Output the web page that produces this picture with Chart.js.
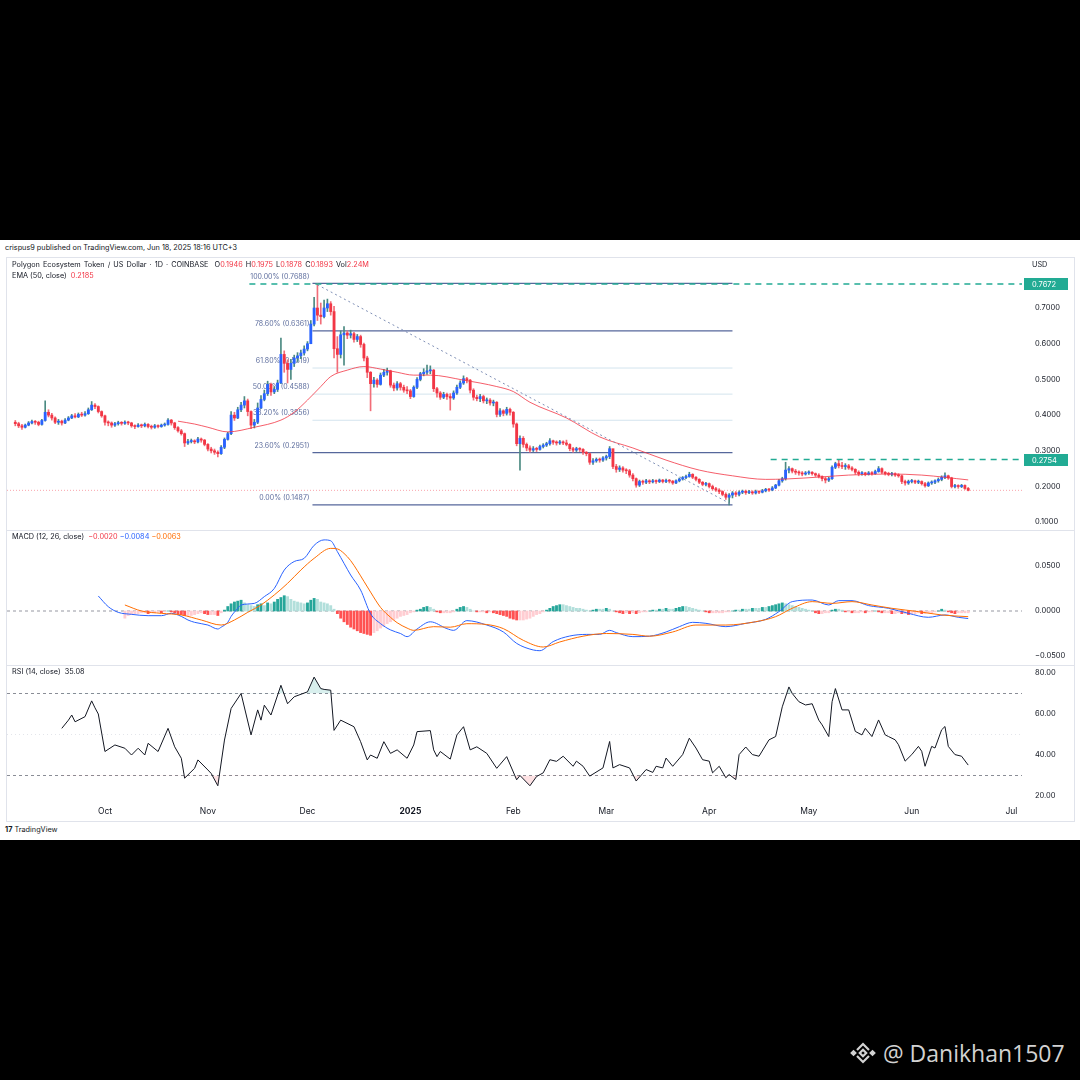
<!DOCTYPE html>
<html>
<head>
<meta charset="utf-8">
<title>POL / USD · 1D · COINBASE</title>
<script src="https://cdn.jsdelivr.net/npm/chart.js@4.4.1/dist/chart.umd.min.js"></script>
<style>
  html, body { margin: 0; padding: 0; background: #000; }
  body { position: relative; width: 1080px; height: 1080px; overflow: hidden; font-family: Inter, "Noto Sans", sans-serif; color: #131722; }
  .sheet { position: absolute; left: 0; top: 240px; width: 1080px; height: 600px; background: #fff; }
  .frame { position: absolute; left: 6px; top: 257px; width: 1069px; height: 565px; border: 1px solid #e0e3eb; box-sizing: border-box; }
  .sep { position: absolute; left: 6px; width: 1069px; height: 1px; background: #e0e3eb; }
  canvas { position: absolute; left: 0; }
  .t { position: absolute; font-size: 7.3px; line-height: 7px; white-space: nowrap; }
  .red { color: #f23645; }
  .blue { color: #2962ff; }
  .orange { color: #ff6d00; }
  .wm { position: absolute; left: 850px; top: 1037px; display: flex; align-items: center; gap: 7px; color: #d2d2d2; font-family: "Open Sans", sans-serif; font-size: 23px; }
</style>
</head>
<body>
<div class="sheet"></div>
<div class="frame"></div>
<canvas id="price" width="1080" height="272" style="top:258px"></canvas>
<canvas id="macd" width="1080" height="135" style="top:530px"></canvas>
<canvas id="rsi" width="1080" height="157" style="top:665px"></canvas>
<div class="sep" style="top:530px"></div>
<div class="sep" style="top:665px"></div>

<div class="t" style="left:5px;top:244px">crispus9 published on TradingView.com, Jun 18, 2025 18:16 UTC+3</div>
<div class="t" id="ohlc" style="left:12px;top:261px;word-spacing:1px"></div>
<div class="t" id="emaLegend" style="left:12px;top:272px"></div>
<div class="t" style="left:1032px;top:261px">USD</div>
<div class="t" style="left:12px;top:533px">MACD (12, 26, close)&nbsp; <span class="red">−0.0020</span> <span class="blue">−0.0084</span> <span class="orange">−0.0063</span></div>
<div class="t" id="rsiLegend" style="left:12px;top:668px"></div>
<div class="t" style="left:5px;top:826px"><b>17</b> TradingView</div>

<div class="wm">
  <svg width="26" height="26" viewBox="-13 -13 26 26" fill="none" stroke="#d2d2d2" stroke-width="2.2">
    <path d="M-6 -3 L0 -9 L6 -3"/>
    <path d="M-6 3 L0 9 L6 3"/>
    <path d="M0 -3.2 L3.2 0 L0 3.2 L-3.2 0 Z"/>
    <path d="M-9.5 -1.8 L-7.7 0 L-9.5 1.8 L-11.3 0 Z" fill="#d2d2d2"/>
    <path d="M9.5 -1.8 L11.3 0 L9.5 1.8 L7.7 0 Z" fill="#d2d2d2"/>
  </svg>
  <span>@ Danikhan1507</span>
</div>

<script>
// bar index 0 = 2024-09-04, one candle per day up to 2025-06-18 (index 287)
const closes = [
  // Sep
  0.376, 0.370, 0.366, 0.372, 0.378, 0.382, 0.380, 0.374, 0.385, 0.408,
  0.400, 0.392, 0.380, 0.383, 0.378, 0.386, 0.392, 0.398, 0.395, 0.402,
  0.400, 0.404, 0.415, 0.428, 0.424, 0.410, 0.398,
  // Oct
  0.380, 0.378, 0.372, 0.376, 0.379, 0.377, 0.380, 0.378, 0.370, 0.368,
  0.372, 0.370, 0.374, 0.368, 0.366, 0.370, 0.368, 0.372, 0.374, 0.386,
  0.378, 0.365, 0.356, 0.348, 0.322, 0.326, 0.328, 0.325, 0.333, 0.330,
  0.318,
  // Nov
  0.305, 0.300, 0.296, 0.292, 0.310, 0.332, 0.348, 0.400, 0.392, 0.415,
  0.428, 0.440, 0.410, 0.372, 0.380, 0.420, 0.444, 0.460, 0.486, 0.465,
  0.472, 0.490, 0.570, 0.545, 0.528, 0.545, 0.560, 0.566, 0.574, 0.585,
  // Dec
  0.600, 0.655, 0.700, 0.680, 0.676, 0.700, 0.712, 0.690, 0.586, 0.570,
  0.625, 0.630, 0.624, 0.628, 0.612, 0.620, 0.598, 0.560, 0.520, 0.488,
  0.498, 0.486, 0.512, 0.520, 0.524, 0.484, 0.476, 0.488, 0.478, 0.470,
  0.468,
  // Jan
  0.452, 0.478, 0.500, 0.516, 0.520, 0.524, 0.526, 0.474, 0.462, 0.450,
  0.458, 0.452, 0.448, 0.462, 0.478, 0.490, 0.502, 0.498, 0.470, 0.450,
  0.446, 0.452, 0.440, 0.442, 0.434, 0.436, 0.402, 0.412, 0.405, 0.416,
  0.408,
  // Feb
  0.375, 0.320, 0.335, 0.318, 0.308, 0.302, 0.306, 0.304, 0.312, 0.316,
  0.320, 0.328, 0.324, 0.322, 0.325, 0.322, 0.318, 0.306, 0.302, 0.306,
  0.304, 0.296, 0.292, 0.268, 0.272, 0.276, 0.274, 0.280,
  // Mar
  0.284, 0.306, 0.256, 0.248, 0.252, 0.246, 0.244, 0.232, 0.222, 0.204,
  0.214, 0.212, 0.216, 0.213, 0.216, 0.214, 0.218, 0.214, 0.217, 0.215,
  0.210, 0.216, 0.221, 0.225, 0.228, 0.234, 0.226, 0.220, 0.212, 0.206,
  0.208,
  // Apr
  0.200, 0.194, 0.190, 0.186, 0.178, 0.170, 0.176, 0.182, 0.178, 0.184,
  0.187, 0.183, 0.185, 0.182, 0.186, 0.184, 0.188, 0.192, 0.190, 0.196,
  0.204, 0.216, 0.222, 0.246, 0.250, 0.243, 0.240, 0.238, 0.235, 0.238,
  // May
  0.240, 0.236, 0.232, 0.228, 0.222, 0.218, 0.222, 0.254, 0.264, 0.258,
  0.256, 0.258, 0.252, 0.248, 0.240, 0.236, 0.238, 0.234, 0.238, 0.236,
  0.242, 0.250, 0.240, 0.236, 0.234, 0.236, 0.232, 0.230, 0.214, 0.210,
  0.214,
  // Jun
  0.216, 0.212, 0.214, 0.208, 0.202, 0.210, 0.212, 0.216, 0.220, 0.226,
  0.230, 0.224, 0.200, 0.202, 0.200, 0.203, 0.1946, 0.1893
];

const highs = [
  0.385, 0.380, 0.374, 0.375, 0.382, 0.386, 0.385, 0.383, 0.388, 0.440,
  0.415, 0.405, 0.395, 0.388, 0.386, 0.390, 0.396, 0.402, 0.404, 0.406,
  0.408, 0.410, 0.420, 0.438, 0.432, 0.426, 0.412,
  0.400, 0.384, 0.381, 0.380, 0.383, 0.382, 0.384, 0.383, 0.380, 0.373,
  0.376, 0.375, 0.378, 0.376, 0.372, 0.374, 0.373, 0.375, 0.378, 0.390,
  0.388, 0.380, 0.368, 0.360, 0.350, 0.332, 0.333, 0.331, 0.338, 0.336,
  0.332,
  0.320, 0.310, 0.305, 0.300, 0.315, 0.336, 0.352, 0.410, 0.408, 0.422,
  0.436, 0.452, 0.445, 0.412, 0.388, 0.434, 0.455, 0.470, 0.495, 0.490,
  0.480, 0.498, 0.616, 0.580, 0.555, 0.556, 0.568, 0.575, 0.582, 0.594,
  0.606, 0.665, 0.730, 0.769, 0.714, 0.722, 0.725, 0.718, 0.705, 0.620,
  0.636, 0.648, 0.636, 0.638, 0.632, 0.626, 0.624, 0.602, 0.565, 0.522,
  0.506, 0.502, 0.518, 0.528, 0.532, 0.526, 0.490, 0.494, 0.492, 0.484,
  0.480,
  0.472, 0.482, 0.505, 0.520, 0.530, 0.540, 0.538, 0.528, 0.478, 0.466,
  0.464, 0.462, 0.460, 0.468, 0.484, 0.496, 0.510, 0.506, 0.500, 0.474,
  0.456, 0.458, 0.456, 0.448, 0.446, 0.442, 0.438, 0.418, 0.415, 0.422,
  0.420,
  0.410, 0.378, 0.342, 0.340, 0.322, 0.314, 0.312, 0.310, 0.316, 0.320,
  0.324, 0.334, 0.330, 0.328, 0.329, 0.328, 0.330, 0.320, 0.310, 0.310,
  0.309, 0.306, 0.298, 0.294, 0.278, 0.280, 0.280, 0.284,
  0.288, 0.312, 0.304, 0.262, 0.258, 0.256, 0.250, 0.248, 0.236, 0.224,
  0.218, 0.218, 0.220, 0.219, 0.220, 0.219, 0.221, 0.220, 0.221, 0.220,
  0.217, 0.219, 0.224, 0.228, 0.232, 0.240, 0.236, 0.228, 0.222, 0.214,
  0.212,
  0.210, 0.204, 0.198, 0.194, 0.188, 0.182, 0.180, 0.186, 0.186, 0.188,
  0.190, 0.190, 0.189, 0.188, 0.190, 0.188, 0.192, 0.195, 0.195, 0.200,
  0.206, 0.220, 0.226, 0.268, 0.256, 0.252, 0.248, 0.244, 0.242, 0.242,
  0.244, 0.242, 0.238, 0.236, 0.230, 0.226, 0.226, 0.258, 0.268, 0.2754,
  0.268, 0.264, 0.262, 0.256, 0.250, 0.244, 0.242, 0.240, 0.242, 0.242,
  0.246, 0.256, 0.252, 0.242, 0.240, 0.240, 0.238, 0.236, 0.232, 0.218,
  0.218,
  0.220, 0.218, 0.218, 0.216, 0.212, 0.213, 0.216, 0.219, 0.224, 0.230,
  0.238, 0.232, 0.226, 0.206, 0.205, 0.206, 0.205, 0.1975
];

const lows = [
  0.370, 0.365, 0.360, 0.364, 0.370, 0.375, 0.374, 0.370, 0.372, 0.383,
  0.395, 0.386, 0.376, 0.374, 0.372, 0.376, 0.384, 0.390, 0.392, 0.393,
  0.396, 0.397, 0.402, 0.413, 0.418, 0.406, 0.394,
  0.372, 0.370, 0.366, 0.368, 0.372, 0.372, 0.374, 0.373, 0.366, 0.362,
  0.366, 0.365, 0.367, 0.364, 0.361, 0.363, 0.364, 0.366, 0.369, 0.372,
  0.372, 0.360, 0.352, 0.344, 0.312, 0.318, 0.322, 0.320, 0.322, 0.324,
  0.314,
  0.300, 0.294, 0.290, 0.283, 0.290, 0.306, 0.330, 0.345, 0.385, 0.390,
  0.410, 0.420, 0.398, 0.362, 0.364, 0.376, 0.418, 0.440, 0.455, 0.455,
  0.460, 0.466, 0.488, 0.520, 0.490, 0.500, 0.536, 0.550, 0.558, 0.568,
  0.580, 0.600, 0.650, 0.665, 0.655, 0.672, 0.690, 0.680, 0.560, 0.520,
  0.560, 0.540, 0.614, 0.616, 0.604, 0.606, 0.590, 0.552, 0.505, 0.412,
  0.478, 0.478, 0.484, 0.508, 0.512, 0.478, 0.468, 0.470, 0.470, 0.464,
  0.460,
  0.446, 0.450, 0.474, 0.496, 0.510, 0.514, 0.516, 0.466, 0.450, 0.444,
  0.446, 0.444, 0.414, 0.444, 0.458, 0.474, 0.486, 0.490, 0.462, 0.442,
  0.440, 0.438, 0.434, 0.432, 0.428, 0.426, 0.395, 0.396, 0.398, 0.400,
  0.400,
  0.366, 0.314, 0.246, 0.310, 0.300, 0.296, 0.298, 0.298, 0.302, 0.308,
  0.312, 0.316, 0.318, 0.316, 0.318, 0.317, 0.314, 0.300, 0.296, 0.298,
  0.298, 0.290, 0.286, 0.262, 0.262, 0.268, 0.268, 0.270,
  0.274, 0.278, 0.250, 0.240, 0.242, 0.240, 0.236, 0.226, 0.216, 0.198,
  0.200, 0.206, 0.208, 0.208, 0.210, 0.209, 0.211, 0.210, 0.211, 0.210,
  0.206, 0.208, 0.213, 0.218, 0.222, 0.226, 0.222, 0.216, 0.208, 0.202,
  0.202,
  0.196, 0.190, 0.186, 0.180, 0.174, 0.164, 0.1487, 0.168, 0.172, 0.174,
  0.180, 0.178, 0.180, 0.178, 0.179, 0.180, 0.182, 0.185, 0.186, 0.188,
  0.194, 0.202, 0.212, 0.218, 0.238, 0.238, 0.234, 0.232, 0.230, 0.232,
  0.234, 0.232, 0.228, 0.224, 0.216, 0.210, 0.214, 0.220, 0.250, 0.252,
  0.250, 0.248, 0.248, 0.244, 0.234, 0.230, 0.232, 0.230, 0.232, 0.232,
  0.234, 0.240, 0.236, 0.232, 0.230, 0.230, 0.228, 0.226, 0.208, 0.204,
  0.206,
  0.210, 0.208, 0.208, 0.204, 0.198, 0.200, 0.206, 0.208, 0.212, 0.216,
  0.222, 0.220, 0.196, 0.196, 0.195, 0.197, 0.192, 0.1878
];

// a 24h market: every daily candle opens at the previous close
const opens = [0.380].concat(closes.slice(0, -1));

// EMA(50)
const emaIdx  = [49, 54, 58, 64, 72, 80, 84, 88, 92, 95, 100, 105, 110, 115, 120, 125, 135, 145, 150, 155, 166, 176, 186, 196, 206, 216, 226, 232, 243, 251, 263, 273, 287];
const emaVals = [0.383, 0.375, 0.366, 0.353, 0.366, 0.386, 0.408, 0.442, 0.480, 0.508, 0.526, 0.536, 0.529, 0.520, 0.512, 0.512, 0.498, 0.480, 0.466, 0.436, 0.392, 0.339, 0.308, 0.274, 0.246, 0.230, 0.220, 0.221, 0.227, 0.232, 0.235, 0.232, 0.2185];

// Fibonacci retracement drawn from the Dec high to the Apr low
const fibPercents = ['100.00%', '78.60%', '61.80%', '50.00%', '38.20%', '23.60%', '0.00%'];
const fibLevels   = [0.7688, 0.6361, 0.5319, 0.4588, 0.3856, 0.2951, 0.1487];
const fibFrom = 89.5, fibTo = 216;

// dotted trend line (high -> low) and the two dashed horizontal levels
const trendIdx  = [91, 216];
const trendVals = [0.765, 0.1487];
const tagLevels = [0.7672, 0.2754];
const tagFrom   = [70.5, 227.5];

// MACD (12, 26, close)
const macdIdx  = [25, 28, 31, 35, 40, 44, 47, 50, 52, 54, 58, 61, 62, 64, 65, 67, 68, 72, 75, 78, 81, 84, 87, 90, 93, 95, 97, 99, 101, 104, 107, 110, 113, 116, 118, 121, 125, 130, 132, 136, 142, 147, 151, 156, 158, 162, 167, 172, 176, 179, 181, 186, 191, 196, 200, 204, 208, 214, 220, 226, 230, 234, 240, 245, 248, 252, 257, 263, 269, 275, 280, 284, 287];
const macdVals = [0.0167, 0.0048, -0.0015, -0.0037, -0.0052, -0.0052, -0.0026, -0.006, -0.010, -0.0126, -0.0156, -0.020, -0.018, -0.0125, -0.006, 0.003, 0.0067, 0.0085, 0.016, 0.025, 0.0455, 0.055, 0.0585, 0.073, 0.079, 0.078, 0.066, 0.053, 0.040, 0.0233, -0.003, -0.014, -0.021, -0.025, -0.0285, -0.020, -0.012, -0.0196, -0.0215, -0.0107, -0.0156, -0.0233, -0.036, -0.0433, -0.0441, -0.034, -0.0278, -0.026, -0.026, -0.0215, -0.024, -0.0285, -0.028, -0.0233, -0.0174, -0.0126, -0.0137, -0.0174, -0.0137, -0.0093, -0.0007, 0.0104, 0.0122, 0.0067, 0.0115, 0.0115, 0.006, 0.003, -0.0026, -0.007, -0.0044, -0.007, -0.0084];
const sigIdx  = [33, 38, 44, 50, 56, 62, 66, 70, 74, 78, 82, 86, 90, 95, 97, 99, 101, 103, 105, 107, 110, 113, 115, 118, 120, 126, 131, 136, 142, 147, 153, 159, 164, 171, 178, 186, 191, 198, 205, 214, 223, 229, 234, 240, 246, 252, 258, 264, 272, 279, 287];
const sigVals = [0.0067, 0.0, -0.0026, -0.0044, -0.010, -0.0156, -0.010, -0.0015, 0.0067, 0.0178, 0.0307, 0.0455, 0.0585, 0.0696, 0.069, 0.064, 0.056, 0.045, 0.033, 0.021, 0.004, -0.007, -0.013, -0.019, -0.0215, -0.0174, -0.0180, -0.0141, -0.0150, -0.0196, -0.0326, -0.040, -0.0344, -0.028, -0.025, -0.026, -0.028, -0.0233, -0.0156, -0.0156, -0.0119, -0.0063, 0.003, 0.0104, 0.0085, 0.0104, 0.0067, 0.003, -0.0007, -0.0044, -0.0063];
const histStart = 33;
const histVals = [
  -0.008, -0.005, -0.004, -0.003, -0.003, -0.002, -0.002, -0.003, -0.002, -0.002,
  -0.001, -0.002, -0.001, 0.000, -0.001, -0.002, -0.003, -0.004, -0.005, -0.005,
  -0.005, -0.004, -0.003, -0.002, -0.003, -0.004, -0.004, -0.004, -0.005, -0.002,
  0.001, 0.005, 0.008, 0.010, 0.011, 0.012, 0.009, 0.007, 0.006, 0.005,
  0.007, 0.008, 0.006, 0.009, 0.008, 0.010, 0.013, 0.015, 0.017, 0.016,
  0.013, 0.011, 0.010, 0.009, 0.008, 0.009, 0.012, 0.014, 0.013, 0.010,
  0.009, 0.008, 0.006, 0.002, -0.003, -0.008, -0.012, -0.015, -0.018, -0.020,
  -0.022, -0.024, -0.025, -0.026, -0.027, -0.024, -0.022, -0.019, -0.017, -0.014,
  -0.012, -0.010, -0.008, -0.006, -0.005, -0.004, -0.002, -0.001, 0.001, 0.002,
  0.004, 0.005, 0.004, 0.002, -0.001, -0.002, -0.002, -0.002, -0.002, -0.001,
  0.002, 0.004, 0.005, 0.004, 0.002, 0.000, -0.001, -0.001, -0.001, -0.002,
  -0.001, -0.002, -0.003, -0.004, -0.005, -0.006, -0.008, -0.009, -0.010, -0.010,
  -0.010, -0.009, -0.008, -0.006, -0.004, -0.003, -0.001, 0.001, 0.003, 0.005,
  0.006, 0.007, 0.007, 0.006, 0.005, 0.004, 0.003, 0.003, 0.002, 0.001,
  0.000, 0.001, 0.002, 0.002, 0.002, 0.003, 0.002, 0.000, -0.001, -0.002,
  -0.003, -0.002, -0.003, -0.002, -0.003, -0.002, -0.001, -0.001, 0.000, 0.001,
  0.001, 0.002, 0.002, 0.003, 0.002, 0.002, 0.003, 0.004, 0.005, 0.005,
  0.004, 0.003, 0.002, 0.001, 0.000, -0.001, -0.002, -0.002, -0.002, -0.002,
  -0.002, -0.001, -0.001, 0.000, 0.001, 0.001, 0.002, 0.002, 0.002, 0.003,
  0.003, 0.003, 0.004, 0.004, 0.005, 0.006, 0.007, 0.008, 0.009, 0.008,
  0.007, 0.006, 0.005, 0.004, 0.003, 0.002, 0.001, 0.000, -0.002, -0.003,
  -0.003, -0.002, -0.002, 0.001, 0.002, 0.002, 0.001, -0.001, -0.001, -0.002,
  -0.002, -0.002, -0.001, -0.002, -0.001, -0.001, 0.000, -0.001, -0.002, -0.002,
  -0.002, -0.003, -0.003, -0.002, -0.003, -0.003, -0.004, -0.003, -0.003, -0.002,
  -0.003, -0.003, -0.002, -0.002, -0.001, 0.000, 0.002, 0.001, -0.001, -0.002,
  -0.003, -0.002, -0.002, -0.002, -0.002
];

// RSI (14, close)
const rsiIdx  = [14, 16, 17, 18, 21, 23, 24, 25, 27, 30, 33, 35, 37, 39, 40, 43, 46, 48, 50, 51, 54, 55, 58, 59, 61, 63, 65, 68, 71, 73, 74, 75, 77, 80, 82, 84, 88, 90, 92, 93, 95, 96, 98, 102, 104, 106, 107, 109, 111, 113, 115, 118, 120, 121, 125, 126, 127, 128, 131, 133, 135, 137, 139, 142, 145, 148, 151, 152, 155, 157, 159, 161, 163, 165, 168, 169, 171, 173, 177, 179, 180, 182, 185, 187, 190, 192, 193, 195, 196, 198, 201, 203, 205, 207, 209, 210, 212, 214, 215, 217, 218, 220, 222, 224, 227, 229, 231, 233, 234, 236, 238, 240, 242, 243, 245, 246, 247, 249, 251, 253, 255, 256, 258, 260, 262, 263, 265, 266, 268, 270, 272, 273, 274, 276, 277, 279, 280, 281, 283, 285, 287];
const rsiVals = [53, 57, 59.5, 56.2, 58.7, 66.4, 63, 60, 41.7, 44.9, 43.3, 40, 43.3, 40, 45.7, 41.7, 53, 44, 38.4, 28.7, 33.5, 37.6, 32.7, 31, 25, 47.3, 62.7, 70, 49.8, 62, 57, 64.3, 59.5, 74, 65, 68.4, 70.8, 78, 72.4, 72, 71.6, 52, 57, 53.8, 46.5, 37.6, 40, 38.4, 46.5, 40.8, 42.5, 38.4, 44.9, 51.4, 51.9, 42.5, 39.2, 41.7, 38, 49.8, 53.8, 42.5, 44, 40.8, 33.5, 39.2, 27.9, 30, 25, 29.5, 31.3, 37.7, 36.9, 39.4, 34.5, 37, 34.5, 29.7, 33.7, 46.6, 33.7, 35.3, 33.7, 27.3, 32.9, 31.5, 34.5, 33.7, 38.5, 34.5, 40.2, 48.2, 43.4, 37.7, 37, 31.3, 34.5, 28.9, 30.5, 28, 40.2, 43.9, 40.2, 39.4, 47.4, 49, 63.5, 73.2, 70, 66, 64.4, 65, 57, 54.7, 49, 66, 72.4, 62, 62, 51.5, 49.8, 53, 49, 57.1, 49.8, 49, 47.4, 45, 37, 40.2, 44.2, 41.8, 34.5, 44.2, 43.4, 52.3, 53.9, 44.2, 40.2, 39.4, 35.08];

// time axis
const monthIdx    = [27, 58, 88, 119, 150, 178, 209, 239, 270, 300];
const monthLabels = ['Oct', 'Nov', 'Dec', '2025', 'Feb', 'Mar', 'Apr', 'May', 'Jun', 'Jul'];

const priceTicks = [0.1, 0.2, 0.3, 0.4, 0.5, 0.6, 0.7];
const macdTicks  = [-0.05, 0, 0.05];
const rsiTicks   = [20, 40, 60, 80];

// ---------- styling ----------
const FONT = 'Inter, "Noto Sans", sans-serif';
const X_MIN = -2.5, X_MAX = 303.2;
const UP = '#2962ff', DOWN = '#f23645';
const UP_WICK = '#4b8a82', DOWN_WICK = '#f26d78';
const TEAL = '#22ab94';
const FIB_DARK = '#56679b', FIB_FAINT = '#d3e4ee';
const faintFib = ['61.80%', '50.00%', '38.20%'];

Chart.defaults.font.family = FONT;
Chart.defaults.animation = false;

const pts = (xs, ys) => xs.map((x, k) => ({ x, y: ys[k] }));
const span = (y, from = X_MIN, to = X_MAX) => [{ x: from, y }, { x: to, y }];
const lastBar = closes.length - 1;

// legends above the panes
const f4 = v => v.toFixed(4);
document.getElementById('ohlc').innerHTML =
  'Polygon Ecosystem Token / US Dollar · 1D · COINBASE&nbsp; ' +
  `O<span class="red">${f4(opens[lastBar])}</span> H<span class="red">${f4(highs[lastBar])}</span> ` +
  `L<span class="red">${f4(lows[lastBar])}</span> C<span class="red">${f4(closes[lastBar])}</span> Vol<span class="red">2.24M</span>`;
document.getElementById('emaLegend').innerHTML = `EMA (50, close)&nbsp; <span class="red">${f4(emaVals[emaVals.length - 1])}</span>`;
document.getElementById('rsiLegend').innerHTML = `RSI (14, close)&nbsp; ${rsiVals[rsiVals.length - 1].toFixed(2)}`;

function xAxis(show) {
  return {
    type: 'linear', min: X_MIN, max: X_MAX, offset: false, display: show,
    grid: { display: false, drawTicks: false }, border: { display: false },
    afterBuildTicks: s => { s.ticks = monthIdx.map(v => ({ value: v })); },
    ticks: {
      autoSkip: false, maxRotation: 0, padding: 6, color: '#131722',
      font: c => ({ family: FONT, size: 8.5, weight: c.tick && c.tick.value === 119 ? 'bold' : 'normal' }),
      callback: v => monthLabels[monthIdx.indexOf(v)] ?? ''
    },
    afterFit: s => {
      s.height = show ? 22 : 0;
      s.paddingLeft = 0; s.paddingRight = 0;
    }
  };
}

function yAxis(min, max, ticks, fmt) {
  return {
    position: 'right', min, max,
    grid: { display: false, drawTicks: false }, border: { display: false },
    afterBuildTicks: s => { s.ticks = ticks.map(v => ({ value: v })); },
    ticks: { padding: 13, color: '#131722', font: { family: FONT, size: 7.5 }, callback: fmt },
    afterFit: s => { s.width = 58; s.paddingTop = 0; s.paddingBottom = 0; }
  };
}

const baseOptions = (scales) => ({
  responsive: false,
  events: [],
  layout: { padding: { left: 7, right: 0, top: 0, bottom: 0 } },
  plugins: { legend: { display: false }, tooltip: { enabled: false } },
  scales
});

const line = (data, extra) => Object.assign({
  type: 'line', data, pointRadius: 0, borderWidth: 1, fill: false, tension: 0
}, extra);

// fib labels under the candles, price tags on the axis
const fibPlugin = {
  id: 'fibLabels',
  beforeDatasetsDraw(chart) {
    const { ctx, scales: { x, y } } = chart;
    ctx.save();
    ctx.font = `7px ${FONT}`;
    ctx.textAlign = 'right';
    ctx.textBaseline = 'middle';
    ctx.fillStyle = '#5d6d9d';
    fibLevels.forEach((lv, k) => {
      ctx.fillText(`${fibPercents[k]} (${f4(lv)})`, x.getPixelForValue(fibFrom) - 3, y.getPixelForValue(lv) - 7);
    });
    ctx.restore();
  },
  afterDraw(chart) {
    const { ctx, chartArea, scales: { y } } = chart;
    ctx.save();
    ctx.font = `7.5px ${FONT}`;
    ctx.textAlign = 'left';
    ctx.textBaseline = 'middle';
    tagLevels.forEach(lv => {
      const py = Math.round(y.getPixelForValue(lv));
      ctx.fillStyle = TEAL;
      ctx.fillRect(chartArea.right + 2, py - 6, 44, 12);
      ctx.fillStyle = '#fff';
      ctx.fillText(f4(lv), chartArea.right + 10, py + 0.5);
    });
    ctx.restore();
  }
};

// ---------- price pane ----------
const upDown = (a, b) => closes.map((c, i) => (c >= opens[i] ? a : b));

const priceSets = [
  {
    type: 'bar', order: 8, grouped: false, barThickness: 1,
    data: closes.map((c, i) => ({ x: i, y: [lows[i], highs[i]] })),
    backgroundColor: upDown(UP_WICK, DOWN_WICK)
  },
  {
    type: 'bar', order: 7, grouped: false, barThickness: 2.2, minBarLength: 1,
    data: closes.map((c, i) => ({ x: i, y: [opens[i], c] })),
    backgroundColor: upDown(UP, DOWN)
  },
  line(pts(emaIdx, emaVals), { order: 3, borderColor: 'rgba(242,54,69,0.8)', cubicInterpolationMode: 'monotone' }),
  line(pts(trendIdx, trendVals), { order: 2, borderColor: '#7f8fb5', borderDash: [2, 3] }),
  line(span(closes[lastBar]), { order: 9, borderColor: 'rgba(242,54,69,0.45)', borderDash: [1, 2] })
];
fibLevels.forEach((lv, k) => {
  const faint = faintFib.includes(fibPercents[k]);
  priceSets.push(line(span(lv, fibFrom, fibTo), {
    order: 10, borderColor: faint ? FIB_FAINT : FIB_DARK, borderWidth: faint ? 1 : 1.2
  }));
});
tagLevels.forEach((lv, k) => {
  priceSets.push(line(span(lv, tagFrom[k]), { order: 1, borderColor: TEAL, borderWidth: 1.5, borderDash: [6, 5] }));
});

new Chart(document.getElementById('price'), {
  type: 'bar',
  data: { datasets: priceSets },
  options: baseOptions({ x: xAxis(false), y: yAxis(0.0782, 0.8401, priceTicks, f4) }),
  plugins: [fibPlugin]
});

// ---------- MACD pane ----------
const histColors = histVals.map((v, k) => {
  const prev = k ? histVals[k - 1] : v;
  if (v >= 0) return v > prev ? '#26a69a' : '#b2dfdb';
  return v < prev ? '#ff5252' : '#ffcdd2';
});

new Chart(document.getElementById('macd'), {
  type: 'bar',
  data: {
    datasets: [
      {
        type: 'bar', order: 3, grouped: false, barThickness: 2.2,
        data: histVals.map((v, k) => ({ x: histStart + k, y: v })),
        backgroundColor: histColors
      },
      line(span(0), { order: 4, borderColor: '#9598a1', borderDash: [3, 3] }),
      line(pts(macdIdx, macdVals), { order: 2, borderColor: UP, cubicInterpolationMode: 'monotone' }),
      line(pts(sigIdx, sigVals), { order: 1, borderColor: '#ff6d00', cubicInterpolationMode: 'monotone' })
    ]
  },
  options: baseOptions({
    x: xAxis(false),
    y: yAxis(-0.06, 0.09, macdTicks, v => (v < 0 ? '−' : '') + Math.abs(v).toFixed(4))
  })
});

// ---------- RSI pane ----------
const rsiPts = pts(rsiIdx, rsiVals);
new Chart(document.getElementById('rsi'), {
  type: 'line',
  data: {
    datasets: [
      line(rsiPts, {
        order: 1, borderColor: '#131722',
        fill: { target: { value: 70 }, above: 'rgba(38,166,154,0.18)', below: 'rgba(0,0,0,0)' }
      }),
      line(rsiPts, {
        order: 2, borderWidth: 0, borderColor: 'rgba(0,0,0,0)',
        fill: { target: { value: 30 }, above: 'rgba(0,0,0,0)', below: 'rgba(242,54,69,0.15)' }
      }),
      line(span(70), { order: 3, borderColor: '#8a8d96', borderDash: [3, 3] }),
      line(span(30), { order: 3, borderColor: '#8a8d96', borderDash: [3, 3] }),
      line(span(50), { order: 3, borderColor: '#e3e5ea', borderDash: [1, 3] })
    ]
  },
  options: baseOptions({
    x: xAxis(true),
    y: yAxis(18.05, 83.9, rsiTicks, v => v.toFixed(2))
  })
});
</script>
</body>
</html>
